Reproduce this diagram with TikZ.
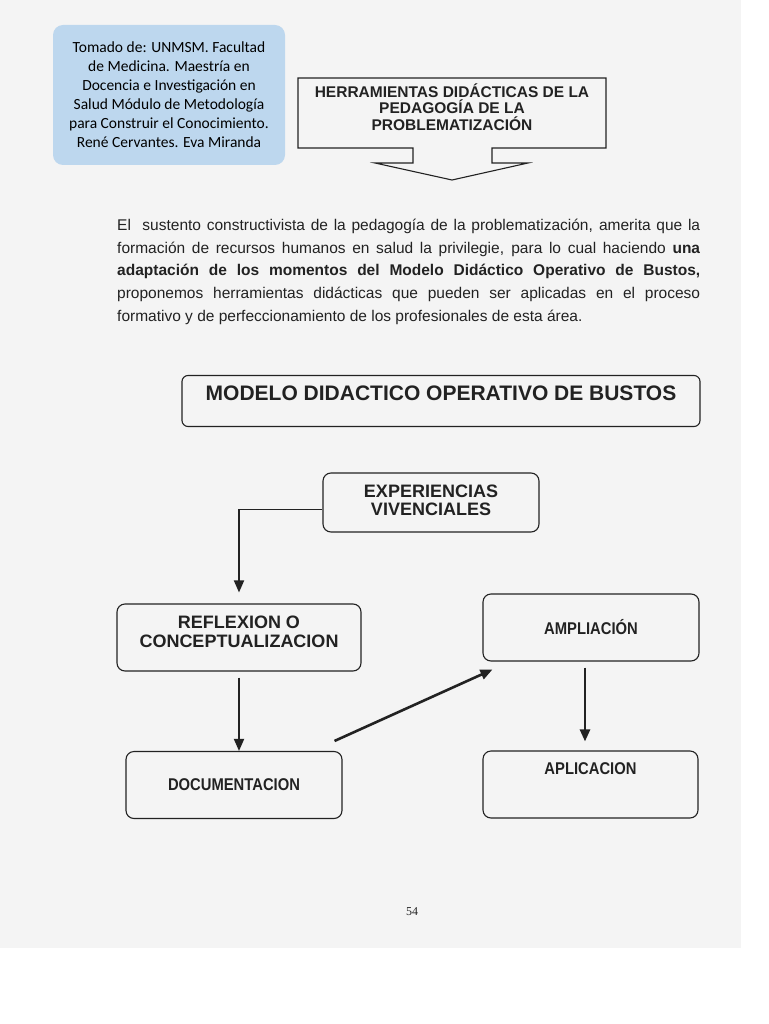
\documentclass[tikz,border=0pt]{standalone}
\usepackage{fontspec}
\setmainfont{Liberation Sans}
\newfontfamily\calibri{Carlito}
\newfontfamily\narrowsans[FakeStretch=0.87]{Liberation Sans}
\newfontfamily\timesfont{Liberation Serif}
\usetikzlibrary{arrows.meta,positioning}

\definecolor{notebox}{HTML}{BDD7EE}
\definecolor{ink}{HTML}{222222}
\definecolor{paper}{HTML}{F4F4F4}

\tikzset{
  stage/.style={draw=ink, line width=1.1pt, rounded corners=8pt, text=ink,
    font=\bfseries\fontsize{18}{18.5}\selectfont, align=center, inner sep=0pt},
  lowstage/.style={stage, font=\narrowsans\bfseries\fontsize{17}{18}\selectfont},
  flow/.style={draw=ink, line width=1.8pt, -{Triangle[width=10pt,length=12pt]}},
  bigflow/.style={flow, line width=2.6pt},
}

\begin{document}
\begin{tikzpicture}[x=1pt,y=-1pt]
\useasboundingbox (0,0) rectangle (768,1024);
\fill[white] (0,0) rectangle (768,1024);
\fill[paper] (0,0) rectangle (741,948);

% nota de la fuente
\node[fill=notebox, rounded corners=10pt, minimum width=232pt, minimum height=140pt,
  font=\calibri\fontsize{15.5}{19}\selectfont, align=center, text=black] (fuente) at (169,95)
  {Tomado de: UNMSM. Facultad\\de Medicina. Maestría en\\Docencia e Investigación en\\Salud Módulo de Metodología\\para Construir el Conocimiento.\\René Cervantes. Eva Miranda};

% cabecera en forma de flecha
\draw[ink, line width=1.1pt] (298,78) -- (606,78) -- (606,148) -- (492,148) -- (492,163)
  -- (528,163) -- (452,180) -- (375,163) -- (413,163) -- (413,148) -- (298,148) -- cycle;
\node[font=\bfseries\fontsize{15.5}{16.5}\selectfont, align=center, text=ink] (herram) at (452,107)
  {HERRAMIENTAS DIDÁCTICAS DE LA\\PEDAGOGÍA DE LA\\PROBLEMATIZACIÓN};

% texto
\node[anchor=north west, inner sep=0pt, text width=583pt, align=justify, text=ink,
  font=\fontsize{15.5}{22.6}\selectfont] (parrafo) at (117,219)
  {El\ \ sustento constructivista de la pedagogía de la problematización, amerita que la\linebreak
  formación de recursos humanos en salud la privilegie, para lo cual haciendo \textbf{una}\linebreak
  \textbf{adaptación de los momentos del Modelo Didáctico Operativo de Bustos,}\linebreak
  proponemos herramientas didácticas que pueden ser aplicadas en el proceso\linebreak
  formativo y de perfeccionamiento de los profesionales de esta área.};

% modelo
\node[stage, rounded corners=6pt, minimum width=518pt, minimum height=51pt, text height=15pt,
  text depth=16pt, font=\bfseries\fontsize{21}{22}\selectfont] (modelo) at (441,401)
  {MODELO DIDACTICO OPERATIVO DE BUSTOS};

\node[stage, minimum width=216pt, minimum height=59pt, text depth=5pt] (exper) at (431,502.5) {EXPERIENCIAS\\VIVENCIALES};
\node[stage, minimum width=244pt, minimum height=67pt, text depth=12pt] (reflex) at (239,637.5) {REFLEXION O\\CONCEPTUALIZACION};
\node[lowstage, minimum width=216pt, minimum height=67pt] (amplia) at (591,627.5) {AMPLIACIÓN};
\node[lowstage, minimum width=216pt, minimum height=67pt] (docum) at (234,785) {DOCUMENTACION};
\node[lowstage, minimum width=215pt, minimum height=67pt, text height=12pt, text depth=33pt] (aplica) at (590.5,784.5) {APLICACION};

\draw[flow, shorten >=11pt] ([yshift=-7pt]exper.west) -| (reflex.north);
\draw[flow, shorten <=6pt] (reflex.south) -- (reflex.south |- docum.north);
\draw[bigflow] ([shift={(-8pt,10pt)}]docum.north east) -- ([shift={(10pt,-8pt)}]amplia.south west);
\draw[bigflow, shorten <=6pt, shorten >=9pt] ([xshift=-6pt]amplia.south) -- ([xshift=-6pt]amplia.south |- aplica.north);

\node[font=\timesfont\fontsize{12}{14}\selectfont, text=ink] (pagina) at (412,912) {54};
\end{tikzpicture}
\end{document}
